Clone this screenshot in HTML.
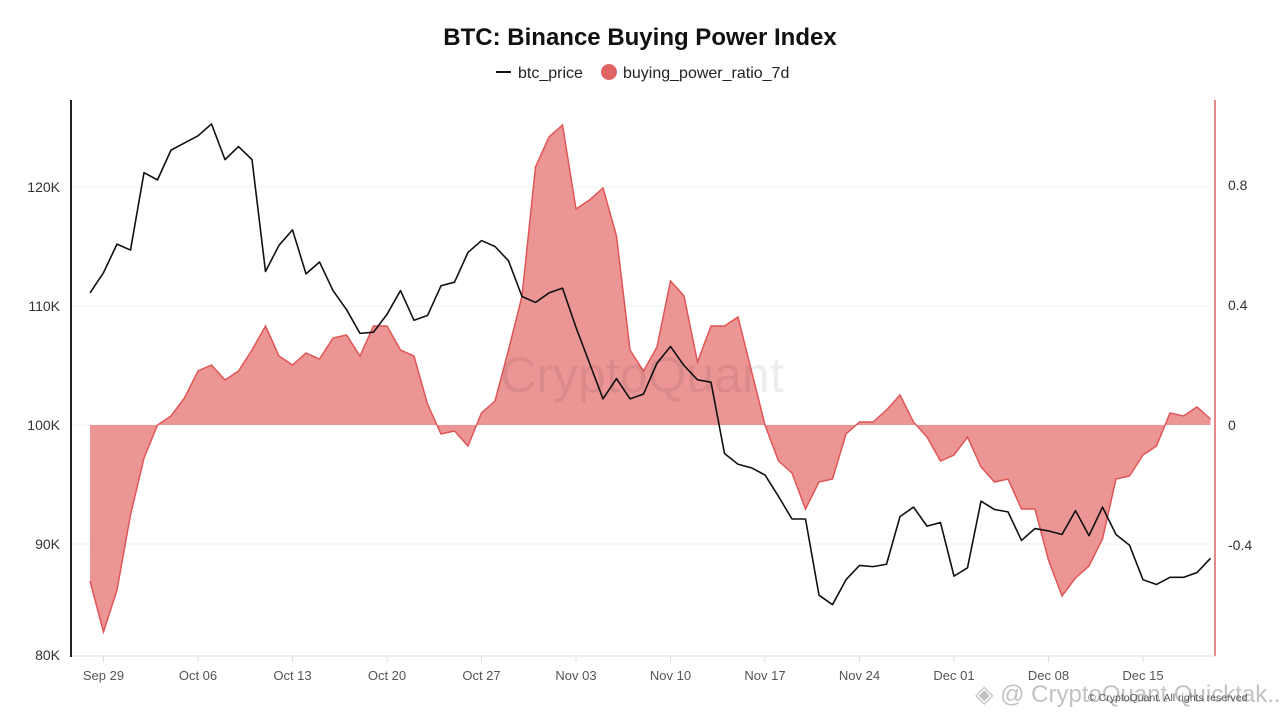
<!DOCTYPE html>
<html><head><meta charset="utf-8"><style>
body{margin:0;background:#fff;font-family:"Liberation Sans",sans-serif;}
#wrap{position:relative;width:1280px;height:720px;overflow:hidden;}
</style></head><body>
<div id="wrap">
<svg id="chart" width="1280" height="720">
<text x="640" y="45" text-anchor="middle" font-size="24" font-weight="bold" fill="#111">BTC: Binance Buying Power Index</text>
<g>
<g><line x1="496" y1="72" x2="511" y2="72" stroke="#111" stroke-width="2"/><text x="518" y="78" font-size="16" fill="#222">btc_price</text></g>
<g><circle cx="609" cy="72" r="8" fill="#e06464"/><text x="623" y="78" font-size="16" fill="#222">buying_power_ratio_7d</text></g>
</g>
<g id="grid"></g>
<g id="area"></g>
<text x="642" y="392" text-anchor="middle" font-size="50" fill="#000" fill-opacity="0.07">CryptoQuant</text>
<g id="line"></g>
<g id="axes"></g>
<text x="975" y="702" font-size="24" fill="#999" fill-opacity="0.6">◈ @ CryptoQuant Quicktak...</text>
<text x="1088" y="701" font-size="10.5" fill="#555">© CryptoQuant. All rights reserved</text>
</svg>
</div>
<script>
const startDate = "2025-09-28";
const priceK = [111.1,112.8,115.2,114.7,121.2,120.6,123.1,123.7,124.3,125.3,122.3,123.4,122.3,112.9,115.1,116.4,112.7,113.7,111.3,109.7,107.7,107.8,109.3,111.3,108.8,109.2,111.7,112.0,114.5,115.5,115.0,113.8,110.8,110.3,111.1,111.5,108.2,105.2,102.2,103.9,102.2,102.6,105.2,106.6,105.0,103.8,103.6,97.6,96.7,96.4,95.8,94.0,92.1,92.1,85.7,84.9,87.0,88.2,88.1,88.3,92.3,93.1,91.5,91.8,87.3,88.0,93.6,92.9,92.7,90.3,91.3,91.1,90.8,92.8,90.7,93.1,90.8,89.9,87.0,86.6,87.2,87.2,87.6,88.8];
const ratio = [-0.52,-0.69,-0.55,-0.30,-0.11,0.00,0.03,0.09,0.18,0.20,0.15,0.18,0.25,0.33,0.23,0.20,0.24,0.22,0.29,0.30,0.23,0.33,0.33,0.25,0.23,0.07,-0.03,-0.02,-0.07,0.04,0.08,0.25,0.43,0.86,0.96,1.00,0.72,0.75,0.79,0.63,0.25,0.18,0.26,0.48,0.43,0.21,0.33,0.33,0.36,0.18,0.00,-0.12,-0.16,-0.28,-0.19,-0.18,-0.03,0.01,0.01,0.05,0.10,0.01,-0.04,-0.12,-0.10,-0.04,-0.14,-0.19,-0.18,-0.28,-0.28,-0.45,-0.57,-0.51,-0.47,-0.38,-0.18,-0.17,-0.10,-0.07,0.04,0.03,0.06,0.02];
const xTickLabels = ["Sep 29","Oct 06","Oct 13","Oct 20","Oct 27","Nov 03","Nov 10","Nov 17","Nov 24","Dec 01","Dec 08","Dec 15"];
const xTickIndex = [1,8,15,22,29,36,43,50,57,64,71,78];
const leftTicks = [80,90,100,110,120];
const rightTicks = [-0.4,0,0.4,0.8];

const NS="http://www.w3.org/2000/svg";
const X0=90, DX=13.5;
function xs(i){return X0+i*DX;}
function yL(k){return 425-(k-100)*11.9;}
function yR(r){return 425-r*300;}
function mk(tag,attrs,parent){const e=document.createElementNS(NS,tag);for(const k in attrs)e.setAttribute(k,attrs[k]);parent.appendChild(e);return e;}
const grid=document.getElementById('grid'),area=document.getElementById('area'),line=document.getElementById('line'),axes=document.getElementById('axes');

leftTicks.forEach(t=>{
  const y=yL(t);
  if(t>80){const g=mk('line',{x1:72,x2:1210,y1:y,y2:y,stroke:'#f2f2f2','stroke-width':1},grid);
  
  }
  const tx=mk('text',{x:60,y:Math.min(y,655)+5,'text-anchor':'end','font-size':14,fill:'#333'},axes);
  tx.textContent=t+'K';
  
  
});
rightTicks.forEach(t=>{
  const tx=mk('text',{x:1228,y:yR(t)+5,'font-size':14,fill:'#333'},axes);
  tx.textContent=(t===0?'0':String(t));
  
  
});
const la=mk('line',{x1:71,x2:71,y1:100,y2:657,stroke:'#222','stroke-width':2},axes);


const ra=mk('line',{x1:1215,x2:1215,y1:100,y2:656,stroke:'#e06060','stroke-width':1.5},axes);


const ba=mk('line',{x1:72,x2:1215,y1:656,y2:656,stroke:'#ddd','stroke-width':1},axes);


xTickIndex.forEach((idx,j)=>{
  const x=xs(idx);
  mk('line',{x1:x,x2:x,y1:656,y2:662,stroke:'#ddd'},axes);
  const tx=mk('text',{x:x,y:680,'text-anchor':'middle','font-size':13,fill:'#555'},axes);
  tx.textContent=xTickLabels[j];
  
  
});

let d='M'+xs(0)+','+yR(0);
ratio.forEach((r,i)=>{d+=' L'+xs(i)+','+yR(r);});
d+=' L'+xs(ratio.length-1)+','+yR(0)+' Z';
const ar=mk('path',{d:d,fill:'#e77a7a','fill-opacity':0.8},area);


const rl=mk('polyline',{points:ratio.map((r,i)=>xs(i)+','+yR(r)).join(' '),fill:'none',stroke:'#e05555','stroke-width':1.5},area);


const pl=mk('polyline',{points:priceK.map((p,i)=>xs(i)+','+yL(p)).join(' '),fill:'none',stroke:'#111','stroke-width':1.6,'stroke-linejoin':'round'},line);


</script>
</body></html>
